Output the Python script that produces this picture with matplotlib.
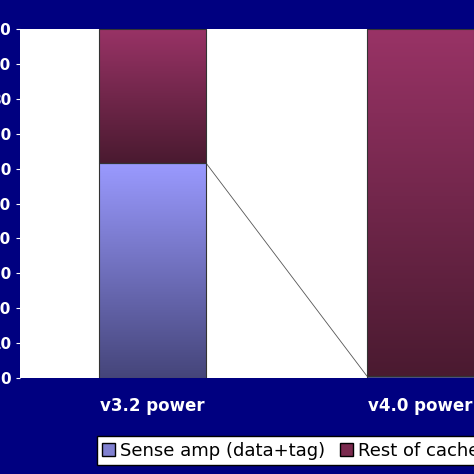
import numpy as np
import matplotlib
matplotlib.use("Agg")
import matplotlib.pyplot as plt
from matplotlib.colors import LinearSegmentedColormap
from matplotlib.patches import Rectangle

categories = ["v3.2 power", "v4.0 power"]
sense_amp = [61.6, 0.6]
rest_of_cache = [38.4, 99.4]
tick_labels = ["0", "10", "20", "30", "40", "50", "60", "70", "80", "90", "100"]

navy = "#000080"
blue_cmap = LinearSegmentedColormap.from_list("b", ["#45457a", "#9a9aff"])
red_cmap = LinearSegmentedColormap.from_list("r", ["#4a1a30", "#993366"])

fig = plt.figure(figsize=(4.74, 4.74), dpi=100, facecolor=navy)
ax = fig.add_axes([20 / 474, 96 / 474, 1 - 20 / 474, 349 / 474])
ax.set_facecolor("white")
ax.set_xlim(-0.494, 1.2)
ax.set_ylim(0, 100)
width = 0.4


def grad_bar(x, y0, h, cmap):
    grad = np.linspace(0, 1, 256).reshape(-1, 1)
    im = ax.imshow(grad, cmap=cmap, origin="lower", aspect="auto",
                   extent=[x - width / 2, x + width / 2, y0, y0 + h], zorder=2)
    r = Rectangle((x - width / 2, y0), width, h, facecolor="none",
                  edgecolor="#333333", linewidth=0.8, zorder=3)
    ax.add_patch(r)
    im.set_clip_path(r)


for i in range(len(categories)):
    grad_bar(i, 0, sense_amp[i], blue_cmap)
    grad_bar(i, sense_amp[i], rest_of_cache[i], red_cmap)

ax.plot([0 + width / 2, 1 - width / 2], [sense_amp[0], sense_amp[1]],
        color="#555555", linewidth=0.6, zorder=1)

ax.set_yticks(np.arange(0, 101, 10))
ax.set_yticklabels(tick_labels, color="white", fontsize=11, fontweight="bold")
ax.tick_params(axis="y", colors="white", length=3)
ax.set_xticks(range(len(categories)))
ax.set_xticklabels(categories, color="white", fontsize=12, fontweight="bold")
ax.tick_params(axis="x", length=0, pad=14)
for s in ax.spines.values():
    s.set_visible(False)

handles = [Rectangle((0, 0), 1, 1, facecolor="#8080d0", edgecolor="black"),
           Rectangle((0, 0), 1, 1, facecolor="#7a2a4e", edgecolor="black")]
fig.legend(handles, ["Sense amp (data+tag)", "Rest of cache"], loc="lower left",
           bbox_to_anchor=(88 / 474, 0.0), ncol=2, fontsize=13, frameon=True,
           fancybox=False, edgecolor="black", facecolor="white", framealpha=1,
           handlelength=0.7, handletextpad=0.3, columnspacing=0.8, borderpad=0.3)

fig.savefig("out.png", dpi=100, facecolor=navy)
